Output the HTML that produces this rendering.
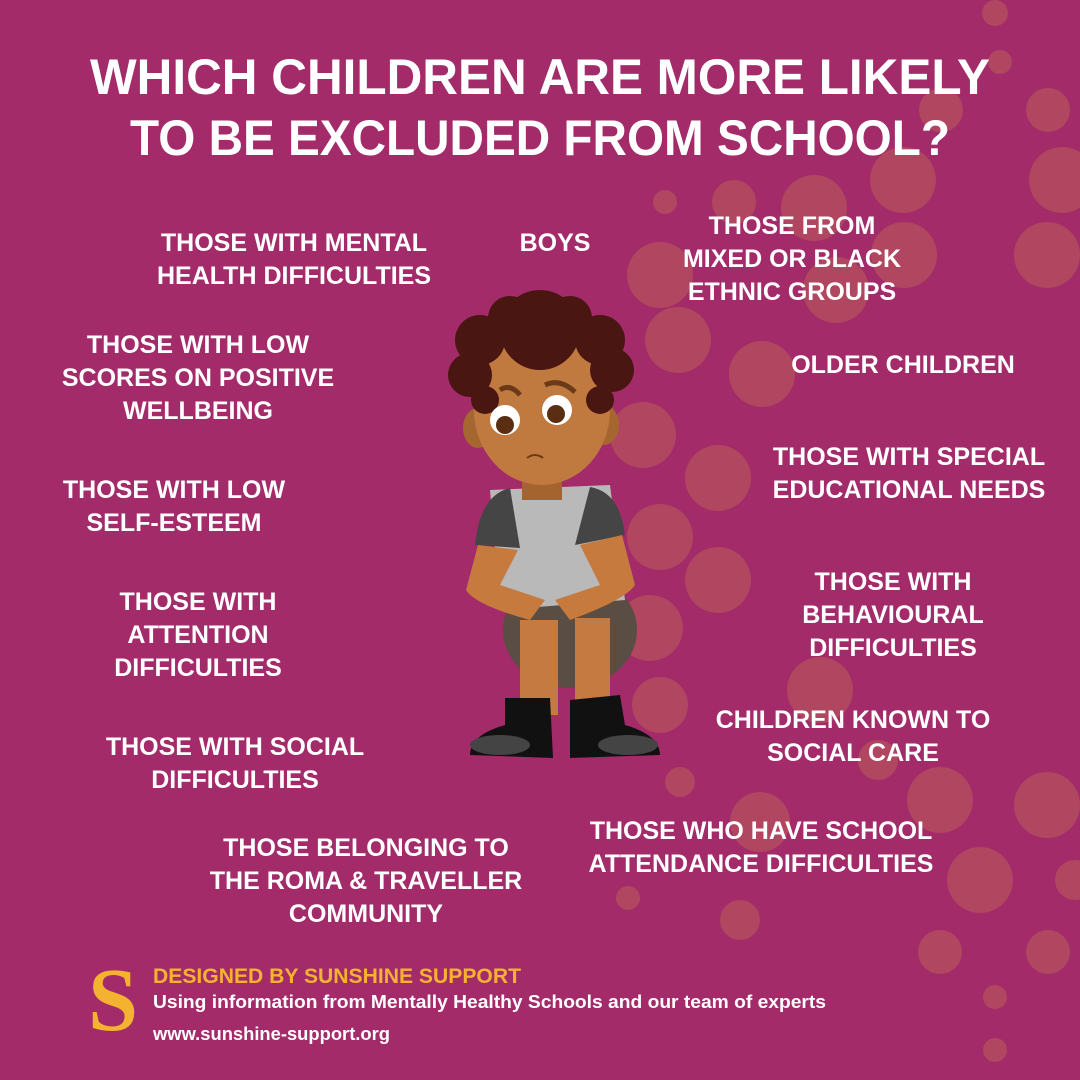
<!DOCTYPE html>
<html><head><meta charset="utf-8"><style>
html,body{margin:0;padding:0;background:#A32B6A;}
svg{display:block}
text{font-family:"Liberation Sans",sans-serif;font-weight:bold;fill:#fff;text-anchor:middle}
</style></head><body>
<svg width="1080" height="1080" viewBox="0 0 1080 1080">
<rect width="1080" height="1080" fill="#A32B6A"/>
<g fill="#B0465F">
<circle cx="995" cy="13" r="13"/><circle cx="1000" cy="62" r="12"/>
<circle cx="941" cy="110" r="22"/><circle cx="1048" cy="110" r="22"/>
<circle cx="903" cy="180" r="33"/><circle cx="1062" cy="180" r="33"/>
<circle cx="734" cy="202" r="22"/><circle cx="665" cy="202" r="12"/>
<circle cx="814" cy="208" r="33"/><circle cx="904" cy="255" r="33"/><circle cx="1047" cy="255" r="33"/>
<circle cx="660" cy="275" r="33"/><circle cx="836" cy="290" r="33"/>
<circle cx="678" cy="340" r="33"/><circle cx="762" cy="374" r="33"/>
<circle cx="643" cy="435" r="33"/><circle cx="718" cy="478" r="33"/>
<circle cx="660" cy="537" r="33"/><circle cx="718" cy="580" r="33"/>
<circle cx="650" cy="628" r="33"/><circle cx="820" cy="690" r="33"/>
<circle cx="660" cy="705" r="28"/><circle cx="680" cy="782" r="15"/>
<circle cx="940" cy="800" r="33"/><circle cx="1047" cy="805" r="33"/>
<circle cx="760" cy="822" r="30"/><circle cx="980" cy="880" r="33"/>
<circle cx="1075" cy="880" r="20"/><circle cx="628" cy="898" r="12"/>
<circle cx="740" cy="920" r="20"/><circle cx="940" cy="952" r="22"/>
<circle cx="1048" cy="952" r="22"/><circle cx="995" cy="997" r="12"/>
<circle cx="995" cy="1050" r="12"/><circle cx="878" cy="760" r="20"/>
</g>
<text x="540" y="94" font-size="50" textLength="900" lengthAdjust="spacingAndGlyphs">WHICH CHILDREN ARE MORE LIKELY</text>
<text x="540" y="155" font-size="50" textLength="820" lengthAdjust="spacingAndGlyphs">TO BE EXCLUDED FROM SCHOOL?</text>
<g font-size="25">
<text x="294" y="251">THOSE WITH MENTAL</text><text x="294" y="284">HEALTH DIFFICULTIES</text>
<text x="555" y="251">BOYS</text>
<text x="792" y="234">THOSE FROM</text><text x="792" y="267">MIXED OR BLACK</text><text x="792" y="300">ETHNIC GROUPS</text>
<text x="198" y="353">THOSE WITH LOW</text><text x="198" y="386">SCORES ON POSITIVE</text><text x="198" y="419">WELLBEING</text>
<text x="903" y="373">OLDER CHILDREN</text>
<text x="174" y="498">THOSE WITH LOW</text><text x="174" y="531">SELF-ESTEEM</text>
<text x="909" y="465">THOSE WITH SPECIAL</text><text x="909" y="498">EDUCATIONAL NEEDS</text>
<text x="198" y="610">THOSE WITH</text><text x="198" y="643">ATTENTION</text><text x="198" y="676">DIFFICULTIES</text>
<text x="893" y="590">THOSE WITH</text><text x="893" y="623">BEHAVIOURAL</text><text x="893" y="656">DIFFICULTIES</text>
<text x="235" y="755">THOSE WITH SOCIAL</text><text x="235" y="788">DIFFICULTIES</text>
<text x="853" y="728">CHILDREN KNOWN TO</text><text x="853" y="761">SOCIAL CARE</text>
<text x="761" y="839">THOSE WHO HAVE SCHOOL</text><text x="761" y="872">ATTENDANCE DIFFICULTIES</text>
<text x="366" y="856">THOSE BELONGING TO</text><text x="366" y="889">THE ROMA &amp; TRAVELLER</text><text x="366" y="922">COMMUNITY</text>
</g>
<!-- boy -->
<ellipse cx="570" cy="630" rx="67" ry="58" fill="#5A4D43"/>
<path d="M490 490 L610 485 L625 600 L500 610 Z" fill="#B9B9B9"/>
<path d="M475 545 Q480 495 510 488 L520 548 Z" fill="#454545"/>
<path d="M625 535 Q620 492 590 487 L575 545 Z" fill="#454545"/>
<path d="M478 545 L466 590 Q475 605 530 620 L545 600 L500 585 L518 550 Z" fill="#C77A3E"/>
<path d="M622 535 L635 585 Q625 600 570 620 L555 600 L600 585 L580 545 Z" fill="#C77A3E"/>
<rect x="520" y="620" width="38" height="95" fill="#C47A40"/>
<rect x="575" y="618" width="35" height="95" fill="#C47A40"/>
<path d="M470 755 Q470 735 505 725 L505 698 L550 698 L553 758 Z" fill="#111"/>
<path d="M660 755 Q660 735 625 725 L620 695 L570 700 L570 758 Z" fill="#111"/>
<ellipse cx="500" cy="745" rx="30" ry="10" fill="#444"/>
<ellipse cx="628" cy="745" rx="30" ry="10" fill="#444"/>
<rect x="522" y="470" width="40" height="30" fill="#A5632E"/>
<ellipse cx="478" cy="428" rx="15" ry="20" fill="#A5672F"/>
<ellipse cx="604" cy="425" rx="15" ry="20" fill="#A5672F"/>
<ellipse cx="542" cy="410" rx="68" ry="75" fill="#C07A40"/>
<g fill="#4A1612">
<circle cx="540" cy="330" r="40"/>
<circle cx="480" cy="340" r="25"/><circle cx="470" cy="375" r="22"/><circle cx="485" cy="400" r="14"/>
<circle cx="600" cy="340" r="25"/><circle cx="612" cy="370" r="22"/><circle cx="600" cy="400" r="14"/>
<circle cx="510" cy="318" r="22"/><circle cx="570" cy="318" r="22"/>
<circle cx="540" cy="308" r="14"/>
</g>
<circle cx="505" cy="420" r="15" fill="#fff"/><circle cx="557" cy="410" r="15" fill="#fff"/>
<circle cx="505" cy="425" r="9" fill="#5A2E12"/><circle cx="556" cy="414" r="9" fill="#5A2E12"/>
<path d="M500 390 Q510 383 520 395" stroke="#6B3A18" stroke-width="5" fill="none"/>
<path d="M545 385 Q560 378 575 392" stroke="#6B3A18" stroke-width="5" fill="none"/>
<path d="M527 458 Q535 452 543 458" stroke="#6B3A18" stroke-width="2" fill="none"/>
<!-- footer -->
<text x="113" y="1030" font-size="90" style="font-family:'Liberation Serif',serif;fill:#F3B22F">S</text>
<text x="153" y="983" font-size="21" textLength="368" lengthAdjust="spacingAndGlyphs" style="text-anchor:start;fill:#F3B22F">DESIGNED BY SUNSHINE SUPPORT</text>
<text x="153" y="1008" font-size="18" textLength="673" lengthAdjust="spacingAndGlyphs" style="text-anchor:start">Using information from Mentally Healthy Schools and our team of experts</text>
<text x="153" y="1040" font-size="18" textLength="237" lengthAdjust="spacingAndGlyphs" style="text-anchor:start">www.sunshine-support.org</text>
</svg>
</body></html>
